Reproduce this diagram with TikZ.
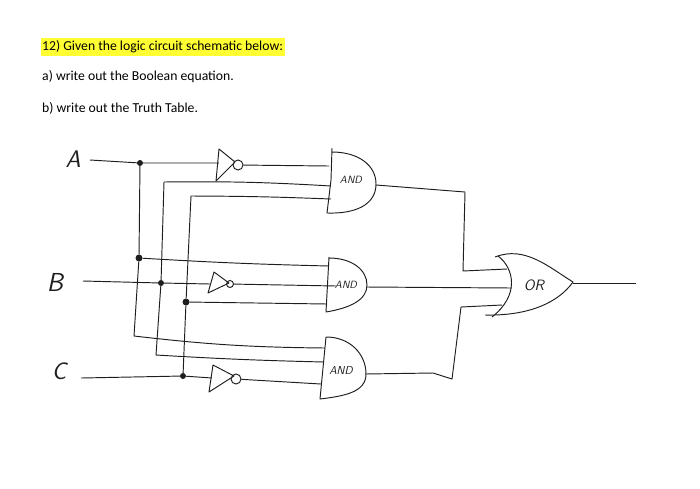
\documentclass[tikz,border=0pt]{standalone}
\usepackage{fontspec}
\setmainfont{Carlito}
\usepackage{xcolor}
\definecolor{ink}{HTML}{1E1E1E}
\definecolor{marker}{HTML}{FFFF33}
\tikzset{
  wire/.style={draw=ink, line width=0.95pt, line join=round},
  dot/.style={circle, fill=ink, inner sep=0pt, minimum size=6pt},
  bubble/.style={circle, draw=ink, line width=0.95pt, inner sep=0pt, minimum size=#1},
  task/.style={font=\fontsize{13.7}{15}\selectfont, text=black, inner sep=0pt, anchor=west},
  hand/.style={font=\fontsize{#1}{#1}\selectfont\sffamily\itshape, text=ink, inner sep=0pt}
}
\begin{document}
\begin{tikzpicture}[x=1pt, y=-1pt]
    \useasboundingbox (0, 0) rectangle (700, 488);
    % question text
    \fill[marker] (41, 38) rectangle (285, 56);
    \node[task] (q) at (42, 47) {12) Given the logic circuit schematic below:};
    \node[task] (qa) at (42, 77) {a) write out the Boolean equation.};
    \node[task] (qb) at (42, 108) {b) write out the Truth Table.};
    % inputs
    \node[hand=24] (A) at (73, 159) {A};
    \node[hand=26] (B) at (55, 282) {B};
    \node[hand=24] (C) at (59, 371) {C};
    \coordinate (a0) at (90, 160);
    \coordinate (b0) at (83, 281);
    \coordinate (c0) at (81, 378);
    % junctions
    \node[dot] (ja) at (140, 163) {};
    \node[dot, minimum size=7pt] (jab) at (139, 258) {};
    \node[dot] (jb) at (161, 283) {};
    \node[dot, minimum size=7pt] (jcb) at (186, 302) {};
    \node[dot] (jc) at (183, 376) {};
    % inverters
    \coordinate (n1) at (219, 163);
    \coordinate (n2) at (210, 284);
    \coordinate (n3) at (212, 378);
    \draw[wire] (219, 149) -- (216, 181) -- (235, 162) -- cycle;
    \draw[wire] (214, 272) -- (208, 293) -- (229, 283) -- cycle;
    \draw[wire] (213, 365) -- (209, 392) -- (234, 376) -- cycle;
    \node[bubble=10pt] (nb1) at (238, 165) {};
    \node[bubble=7pt] (nb2) at (230, 284) {};
    \node[bubble=10pt] (nb3) at (236, 379) {};
    % and gates
    \draw[wire] (332, 148) -- (331, 180) -- (327, 213) .. controls (355, 214) and (376, 205) .. (376, 184)
      .. controls (376, 165) and (358, 152) .. (332, 152);
    \draw[wire] (329, 257) -- (326, 312) .. controls (350, 308) and (367, 300) .. (367, 285)
      .. controls (367, 270) and (352, 258) .. (329, 258);
    \draw[wire] (326, 337) -- (320, 399) .. controls (345, 396) and (366, 392) .. (366, 374)
      .. controls (366, 354) and (350, 337) .. (326, 337);
    \node[hand=10.5] (g1) at (351, 180) {AND};
    \node[hand=10.5] (g2) at (346, 285) {AND};
    \node[hand=11.5] (g3) at (341, 370) {AND};
    \coordinate (g1a) at (329, 166);
    \coordinate (g1b) at (331, 186);
    \coordinate (g1c) at (331, 199);
    \coordinate (g2a) at (329, 266);
    \coordinate (g2b) at (336, 286);
    \coordinate (g2c) at (327, 304);
    \coordinate (g3a) at (325, 348);
    \coordinate (g3b) at (324, 362);
    \coordinate (g3c) at (321, 384);
    \coordinate (g1o) at (376, 185);
    \coordinate (g2o) at (367, 287);
    \coordinate (g3o) at (365, 374);
    % or gate
    \draw[wire] (495, 257) .. controls (525, 245) and (550, 268) .. (573, 282)
      .. controls (558, 303) and (528, 316) .. (485, 315);
    \draw[wire] (498, 256) .. controls (514, 268) and (520, 295) .. (492, 317);
    \node[hand=15] (g4) at (534, 285) {OR};
    \coordinate (g4a) at (507, 269);
    \coordinate (g4b) at (512, 288);
    \coordinate (g4c) at (502, 305);
    \coordinate (g4o) at (573, 283);
    \coordinate (out) at (636, 283);
    % bends
    \coordinate (ab) at (134, 336);
    \coordinate (bt) at (164, 182);
    \coordinate (bb) at (156, 355);
    \coordinate (ct) at (191, 196);
    \coordinate (r1) at (465, 192);
    \coordinate (r2) at (463, 271);
    \coordinate (r3) at (433, 373);
    \coordinate (r4) at (452, 379);
    \coordinate (r5) at (461, 307);
    % wires
    \draw[wire] (a0) -- (ja) -- (n1);
    \draw[wire] (b0) -- (jb) -- (n2);
    \draw[wire] (c0) -- (jc) -- (n3);
    \draw[wire] (ja) -- (jab) -- (ab) to[bend right=3] (g3a);
    \draw[wire] (jab) to[bend right=1] (g2a);
    \draw[wire] (jb) -- (bt) to[bend left=2] (g1b);
    \draw[wire] (jb) -- (bb) to[bend right=1] (g3b);
    \draw[wire] (jc) -- (jcb) -- (ct) to[bend left=1] (g1c);
    \draw[wire] (jcb) -- (g2c);
    \draw[wire] (nb1) -- (g1a);
    \draw[wire] (nb2) -- (g2b);
    \draw[wire] (nb3) -- (g3c);
    \draw[wire] (g1o) -- (r1) -- (r2) -- (g4a);
    \draw[wire] (g2o) -- (g4b);
    \draw[wire] (g3o) -- (r3) -- (r4) -- (r5) -- (g4c);
    \draw[wire] (g4o) -- (out);
  \end{tikzpicture}
\end{document}
